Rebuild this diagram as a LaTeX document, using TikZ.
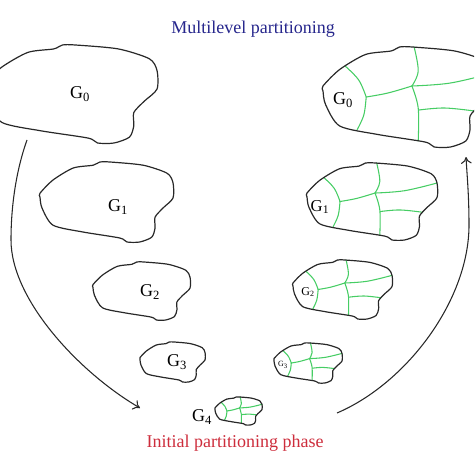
\documentclass[tikz,border=0pt]{standalone}
\usepackage{fontspec}
\setmainfont{Liberation Serif}
\usetikzlibrary{arrows.meta}
\definecolor{titleblue}{RGB}{38,38,140}
\definecolor{phasered}{RGB}{205,45,60}
\definecolor{partgreen}{RGB}{70,205,100}
\definecolor{inkgray}{RGB}{40,40,40}
% outline of one graph, in a unit box (y down)
\newcommand\blobshape{plot[smooth cycle, tension=0.45] coordinates {
  (0,0.44) (0.015,0.575) (0.098,0.79) (0.323,0.875) (0.60,0.95)
  (0.654,1) (0.75,1) (0.84,0.94) (0.865,0.825) (0.865,0.69)
  (0.925,0.575) (1,0.45) (1,0.26) (0.955,0.14) (0.775,0.04)
  (0.526,0) (0.45,0) (0.40,0.04) (0.25,0.075) (0.098,0.225) (0,0.39)}}
\tikzset{
  outline/.style={draw=inkgray, line width=0.9pt, line join=round},
  cut/.style={draw=partgreen, line width=0.8pt, line cap=round},
  flow/.style={draw=inkgray, line width=0.8pt, -{To[length=5pt,width=8pt]}},
  glabel/.style={inner sep=0pt, font=\fontsize{13.5}{15}\selectfont},
  blob/.pic={\draw[outline] \blobshape;},
  cutblob/.pic={
    \draw[cut] plot[smooth, tension=0.6] coordinates {(0.536,0) (0.56,0.24) (0.523,0.39)};
    \draw[cut] plot[smooth, tension=0.6] coordinates {(0.523,0.39) (0.382,0.46) (0.254,0.50)};
    \draw[cut] plot[smooth, tension=0.6] coordinates {(0.13,0.19) (0.21,0.33) (0.254,0.50)};
    \draw[cut] plot[smooth, tension=0.6] coordinates {(0.254,0.50) (0.24,0.68) (0.20,0.83)};
    \draw[cut] plot[smooth, tension=0.6] coordinates {(0.523,0.39) (0.75,0.36) (1,0.26)};
    \draw[cut] plot[smooth, tension=0.6] coordinates {(0.523,0.39) (0.56,0.61) (0.56,0.94)};
    \draw[cut] plot[smooth, tension=0.6] coordinates {(0.565,0.63) (0.715,0.61) (0.89,0.64)};
    \draw[outline] \blobshape;
  }
}
\begin{document}
\begin{tikzpicture}[x=0.75pt, y=-0.75pt]
\useasboundingbox (0,0) rectangle (474,474);
\clip (0,0) rectangle (474,474);

% coarsening side
\pic[xscale=172, yscale=98] at (-15,45) {blob};
\pic[xscale=133, yscale=80] at (40,162) {blob};
\pic[xscale=97, yscale=58] at (93,262) {blob};
\pic[xscale=65, yscale=40] at (140,342) {blob};

% coarsest graph
\pic[xscale=47, yscale=28] at (215,397) {cutblob};

% refinement side
\pic[xscale=170, yscale=100] at (323,47) {cutblob};
\pic[xscale=130, yscale=77] at (307,163) {cutblob};
\pic[xscale=99, yscale=59] at (293,260) {cutblob};
\pic[xscale=68, yscale=40] at (274,343) {cutblob};

\node[glabel] (g0l) at (80,94) {G\textsubscript{0}};
\node[glabel] (g1l) at (118,207) {G\textsubscript{1}};
\node[glabel] (g2l) at (150,292) {G\textsubscript{2}};
\node[glabel] (g3l) at (177,362) {G\textsubscript{3}};
\node[glabel] (g4) at (202,417) {G\textsubscript{4}};
\node[glabel] (g0r) at (343,100) {G\textsubscript{0}};
\node[glabel, font=\fontsize{12.5}{14}\selectfont] (g1r) at (320,207) {G\textsubscript{1}};
\node[glabel, font=\fontsize{9}{10}\selectfont] (g2r) at (308,292) {G\textsubscript{2}};
\node[glabel, font=\fontsize{6}{7}\selectfont] (g3r) at (283,365) {G\textsubscript{3}};

\node[text=titleblue, font=\fontsize{13.5}{15}\selectfont] (multi) at (253,29) {Multilevel partitioning};
\node[text=phasered, font=\fontsize{13.5}{15}\selectfont] (initial) at (235,443) {Initial partitioning phase};

% arcs
\coordinate (downstart) at (27,140);
\coordinate (downmid) at (11,240);
\coordinate (downend) at (140,408);
\coordinate (upstart) at (337,413);
\coordinate (upmid) at (469,225);
\coordinate (upend) at (466,157);
\draw[flow] (downstart) .. controls +(-9,25) and +(0,-40) .. (downmid)
  .. controls +(0,60) and +(-60,-35) .. (downend);
\draw[flow] (upstart) .. controls +(70,-30) and +(0,75) .. (upmid)
  .. controls +(0,-30) and +(1,18) .. (upend);
\end{tikzpicture}
\end{document}
